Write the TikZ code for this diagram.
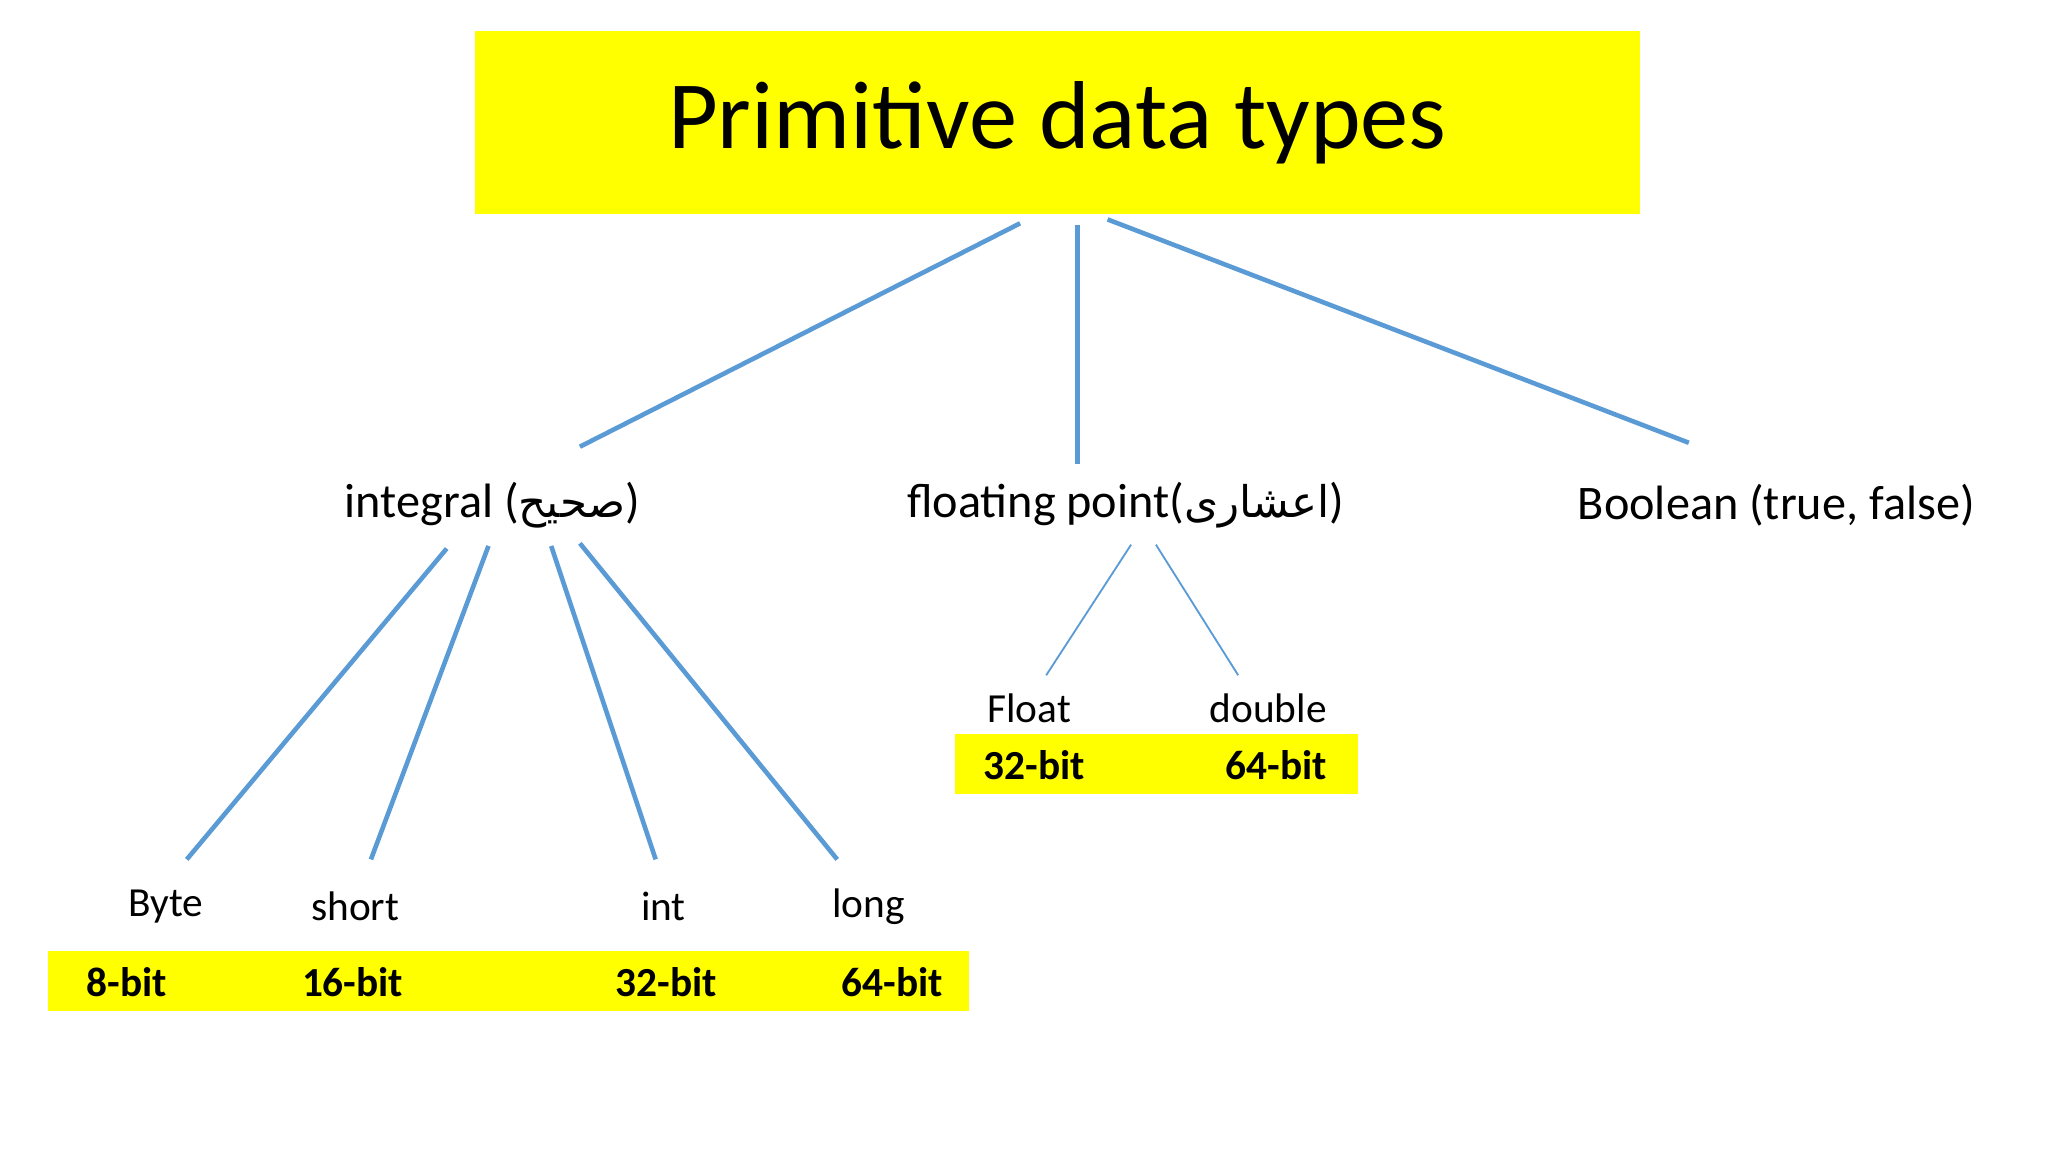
\documentclass[tikz,border=0pt]{standalone}
\usepackage{fontspec}
\setmainfont{Carlito}
\newfontfamily\arabicfont[Script=Arabic]{DejaVu Sans}
\TeXXeTstate=1
\definecolor{lblue}{RGB}{91,155,213}
\definecolor{ylw}{RGB}{255,255,0}
\tikzset{
  conn/.style={draw=lblue,line width=1pt},
  thinconn/.style={draw=lblue,line width=0.4pt},
  band/.style={fill=ylw,draw=none,inner sep=0pt},
  lbl/.style={inner sep=0pt,font=\fontsize{10.5}{12}\selectfont},
  small/.style={inner sep=0pt,font=\fontsize{9}{11}\selectfont},
  bits/.style={inner sep=0pt,font=\fontsize{9}{11}\selectfont\bfseries}
}
\begin{document}
\begin{tikzpicture}[x=0.01cm,y=-0.01cm]
\useasboundingbox (0,0) rectangle (1568,882);
\fill[white] (0,0) rectangle (1568,882);
\node[band,minimum width=8.91cm,minimum height=1.40cm] (title) at (809.5,94) {\fontsize{21}{24}\selectfont Primitive data types};
\node[lbl] (integral) at (377,387) {integral ({\arabicfont\fontsize{9.5}{11}\selectfont\beginR صحيح\endR})};
\node[lbl] (floating) at (862,387) {floating point({\arabicfont\fontsize{9.5}{11}\selectfont\beginR اعشارى\endR})};
\node[lbl] (boolean) at (1360,387) {Boolean (true, false)};
% title connectors
\coordinate (t1) at (781,171); \coordinate (i0) at (444,342);
\coordinate (t2) at (825,172); \coordinate (f0) at (825,355);
\coordinate (t3) at (848,168); \coordinate (b0) at (1293,339);
\draw[conn] (t1) -- (i0); \draw[conn] (t2) -- (f0); \draw[conn] (t3) -- (b0);
% integral subtypes
\node[band,minimum width=7.05cm,minimum height=0.46cm] (intband) at (389.5,751) {};
\node[small] (byte) at (127,694) {Byte};
\node[small] (short) at (272,694) {short};
\node[small] (int) at (508,694) {int};
\node[small] (long) at (665,694) {long};
\node[bits] (b8) at (97,752) {8-bit};
\node[bits] (b16) at (270,752) {16-bit};
\node[bits] (b32) at (510,752) {32-bit};
\node[bits] (b64) at (683,752) {64-bit};
\coordinate (ia) at (342,420); \coordinate (ba) at (143,658);
\coordinate (ib) at (374,418); \coordinate (sb) at (284,658);
\coordinate (ic) at (422,418); \coordinate (nc) at (502,658);
\coordinate (id) at (444,416); \coordinate (ld) at (641,658);
\draw[conn] (ia) -- (ba); \draw[conn] (ib) -- (sb);
\draw[conn] (ic) -- (nc); \draw[conn] (id) -- (ld);
% floating subtypes
\node[band,minimum width=3.09cm,minimum height=0.46cm] (fband) at (885.5,585) {};
\node[small] (float) at (788,542) {Float};
\node[small] (double) at (971,542) {double};
\node[bits] (f32) at (792,586) {32-bit};
\node[bits] (f64) at (977,586) {64-bit};
\coordinate (fa) at (866,417); \coordinate (fl) at (801,517);
\coordinate (fb) at (885,417); \coordinate (dl) at (948,517);
\draw[thinconn] (fa) -- (fl); \draw[thinconn] (fb) -- (dl);
\end{tikzpicture}
\end{document}
